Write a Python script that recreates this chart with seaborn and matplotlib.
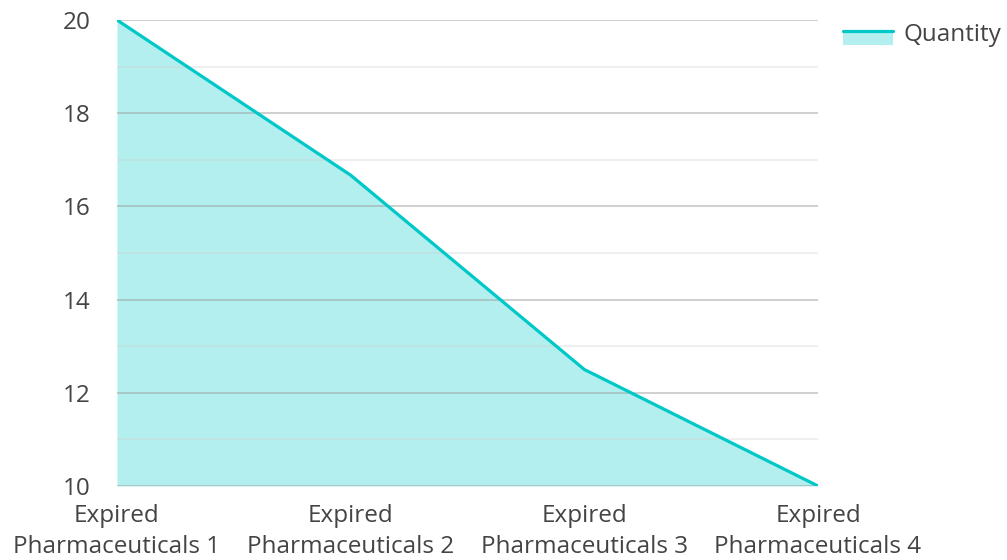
import matplotlib
matplotlib.use("Agg")
import matplotlib.pyplot as plt
from matplotlib.patches import Rectangle
from matplotlib.lines import Line2D
from matplotlib.legend_handler import HandlerBase
from matplotlib.ticker import MultipleLocator
import seaborn as sns
import pandas as pd

categories = ["Expired\nPharmaceuticals 1", "Expired\nPharmaceuticals 2",
              "Expired\nPharmaceuticals 3", "Expired\nPharmaceuticals 4"]
quantity = [20, 16.67, 12.5, 10]
series_name = "Quantity"

LINE = "#00c8c8"
FILL = "#b2efee"
TEXT = "#444444"
FS = 17.5

sns.set_theme(style="white")
plt.rcParams["font.family"] = ["Open Sans", "DejaVu Sans"]

df = pd.DataFrame({"pos": range(len(categories)), "value": quantity})

fig = plt.figure(figsize=(10.07, 5.6), dpi=100)
ax = fig.add_axes([117 / 1007, 1 - 486 / 560, (818 - 117) / 1007, (486 - 20) / 560])

ax.fill_between(df["pos"], 10, df["value"], color=FILL, linewidth=0, zorder=1)
sns.lineplot(data=df, x="pos", y="value", ax=ax, color=LINE, linewidth=2.3,
             zorder=3, legend=False)

ax.set_xlim(0, len(categories) - 1)
ax.set_ylim(10, 20)
ax.yaxis.set_major_locator(MultipleLocator(2))
ax.yaxis.set_minor_locator(MultipleLocator(1))
ax.grid(which="major", axis="y", color="#9a9a9a", alpha=0.55, linewidth=1.2, zorder=2)
ax.grid(which="minor", axis="y", color="#cfcfcf", alpha=0.4, linewidth=1.2, zorder=2)
ax.set_axisbelow(False)
for s in ax.spines.values():
    s.set_visible(False)

ax.set_xticks(df["pos"])
ax.set_xticklabels(categories, fontsize=FS, color=TEXT, linespacing=1.37)
ax.tick_params(axis="x", length=0, pad=13)
ax.tick_params(axis="y", which="both", length=0, pad=19, labelsize=FS, labelcolor=TEXT)
for lbl in ax.get_yticklabels():
    lbl.set_horizontalalignment("right")
ax.set_xlabel("")
ax.set_ylabel("")


class AreaHandler(HandlerBase):
    def create_artists(self, legend, orig_handle, xdescent, ydescent,
                       width, height, fontsize, trans):
        rect = Rectangle((-xdescent, -ydescent - 4), width, height,
                         facecolor=FILL, edgecolor="none", transform=trans)
        line = Line2D([-xdescent, -xdescent + width],
                      [-ydescent - 4 + height] * 2,
                      color=LINE, linewidth=2.3, transform=trans)
        return [rect, line]


proxy = Rectangle((0, 0), 1, 1)
fig.legend([proxy], [series_name], handler_map={Rectangle: AreaHandler()},
           loc="upper left", bbox_to_anchor=(836 / 1007, 1 - 16 / 560),
           frameon=False, fontsize=FS, handlelength=2.05, handleheight=0.5,
           handletextpad=0.42, labelcolor=TEXT, borderaxespad=0, borderpad=0.3)

fig.savefig("out.png", dpi=100)
